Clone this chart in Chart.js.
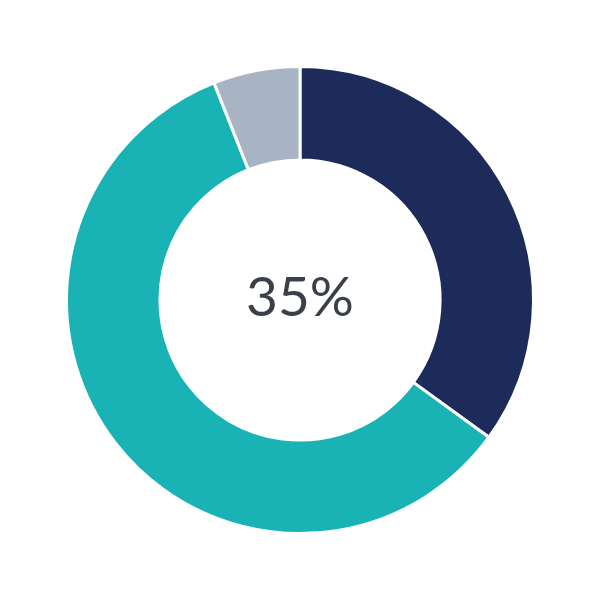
<!DOCTYPE html>
<html>
<head>
<meta charset="utf-8">
<script src="https://cdn.jsdelivr.net/npm/chart.js@4.4.0/dist/chart.umd.min.js"></script>
<style>
  html, body { margin: 0; padding: 0; background: #fff; }
  #wrap { width: 600px; height: 600px; }
</style>
</head>
<body>
<div id="wrap"><canvas id="donut"></canvas></div>
<script>
// 데이터
const labels = ['A', 'B', 'C'];
const values = [35, 59, 6];
const colors = ['#1c2b5a', '#1ab3b5', '#a8b3c3'];
const centerLabel = '35%';

// 가운데 글자 그리기
const centerText = {
  id: 'centerText',
  afterDraw(chart) {
    const ctx = chart.ctx;
    const meta = chart.getDatasetMeta(0).data[0];
    ctx.save();
    ctx.font = '400 55px Lato, "Open Sans", sans-serif';
    ctx.fillStyle = '#3a3f48';
    ctx.textAlign = 'center';
    ctx.textBaseline = 'middle';
    ctx.fillText(centerLabel, meta.x, meta.y - 2);
    ctx.restore();
  }
};

new Chart(document.getElementById('donut'), {
  type: 'doughnut',
  data: {
    labels: labels,
    datasets: [{
      data: values,
      backgroundColor: colors,
      borderColor: '#ffffff',
      borderWidth: 3
    }]
  },
  options: {
    responsive: true,
    maintainAspectRatio: false,
    animation: false,
    cutout: '60%',
    layout: { padding: 65 },
    plugins: {
      legend: { display: false },
      tooltip: { enabled: false }
    }
  },
  plugins: [centerText]
});
</script>
</body>
</html>
